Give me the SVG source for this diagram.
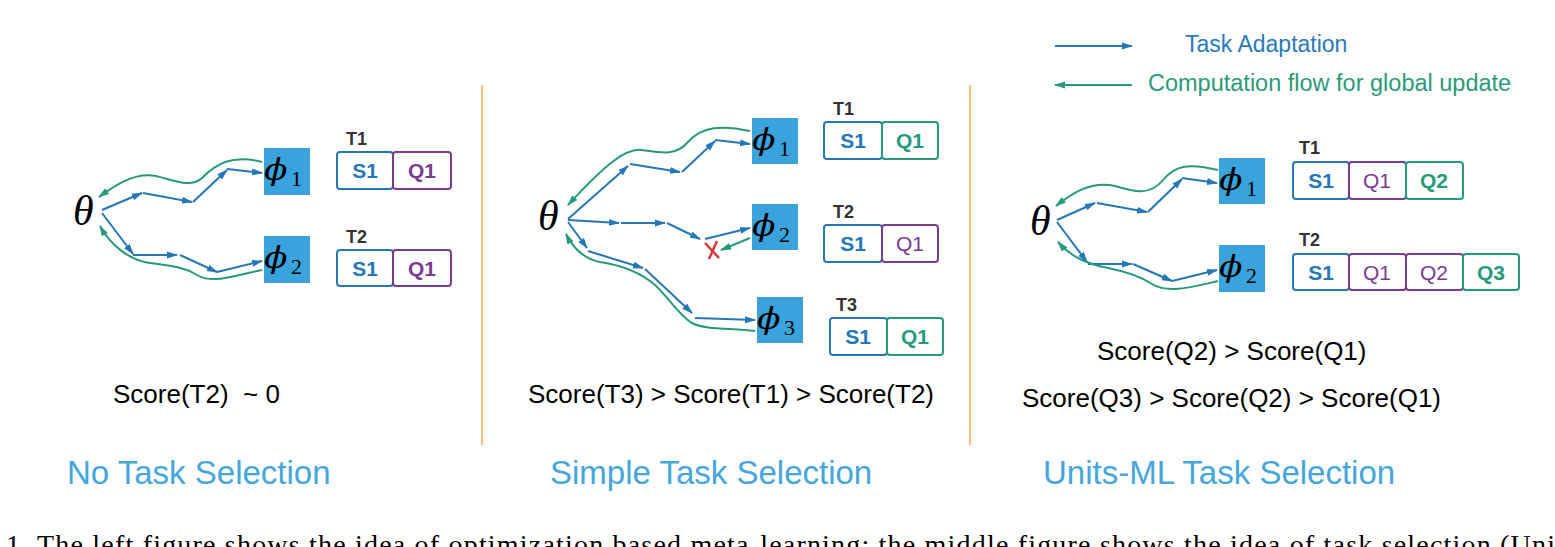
<svg xmlns="http://www.w3.org/2000/svg" width="1555" height="547" viewBox="0 0 1555 547">
<defs>
<marker id="ab" markerUnits="userSpaceOnUse" markerWidth="11" markerHeight="8" refX="10" refY="4" orient="auto"><path d="M0,0.5 L11,4 L0,7.5 z" fill="#2577b5"/></marker>
<marker id="ag" markerUnits="userSpaceOnUse" markerWidth="11" markerHeight="8" refX="10" refY="4" orient="auto"><path d="M0,0.5 L11,4 L0,7.5 z" fill="#259a7c"/></marker>
<style>
.b{stroke:#2577b5;stroke-width:2;fill:none;marker-end:url(#ab)}
.g{stroke:#259a7c;stroke-width:2;fill:none;marker-end:url(#ag)}
.phibox{fill:#3ba3dc}
.phi{font-family:"DejaVu Serif","Liberation Serif",serif;font-style:italic;font-size:30px;fill:#000}
.sub{font-family:"Liberation Serif","DejaVu Serif",serif;font-size:22px;fill:#000}
.theta{font-family:"Liberation Serif","DejaVu Serif",serif;font-style:italic;font-size:42px;fill:#000}
.tl{font-family:"Liberation Sans",Arial,sans-serif;font-weight:bold;font-size:18px;fill:#333}
.bx{fill:#fff;stroke-width:2}
.sb{stroke:#2577b5}.sp{stroke:#7b3b8f}.sg{stroke:#259a7c}
.bt{font-family:"Liberation Sans",Arial,sans-serif;font-size:21px;text-anchor:middle}
.tb{fill:#2577b5;font-weight:bold}.tp{fill:#7b3b8f;font-weight:bold}.tpr{fill:#7b3b8f}.tg{fill:#259a7c;font-weight:bold}
.score{font-family:"Liberation Sans",Arial,sans-serif;font-size:26px;fill:#000}
.title{font-family:"Liberation Sans",Arial,sans-serif;font-size:33px;fill:#45a6dc}
.sep{stroke:#f5c27c;stroke-width:2}
</style>
</defs>
<rect width="1555" height="547" fill="#fff"/>

<g id="legend">
<line x1="1055" y1="46" x2="1132" y2="46" class="b"/>
<text x="1185" y="52" font-family="Liberation Sans, Arial, sans-serif" font-size="23" fill="#2a7ab8">Task Adaptation</text>
<line x1="1132" y1="85" x2="1055" y2="85" class="g"/>
<text x="1148" y="91" font-family="Liberation Sans, Arial, sans-serif" font-size="23.5" fill="#2a9a7a">Computation flow for global update</text>
</g>

<g id="separators">
<line x1="482" y1="85" x2="482" y2="445" class="sep"/>
<line x1="970" y1="85" x2="970" y2="445" class="sep"/>
</g>

<g id="connectors">
<!-- left -->
<line x1="102" y1="210" x2="142" y2="193" class="b"/>
<line x1="143" y1="193" x2="192" y2="202" class="b"/>
<line x1="193" y1="202" x2="227" y2="170" class="b"/>
<line x1="227" y1="169" x2="262" y2="173" class="b"/>
<line x1="102" y1="213" x2="133" y2="254" class="b"/>
<line x1="133" y1="255" x2="177" y2="255" class="b"/>
<line x1="180" y1="255" x2="217" y2="272" class="b"/>
<line x1="217" y1="272" x2="262" y2="261" class="b"/>
<path d="M262,162 C232,154 216,164 202,178 C191,188 176,181 156,176 C134,172 114,186 99,197" class="g"/>
<path d="M262,270 C232,276 212,284 197,275 C184,267 172,266 150,263 C128,260 110,244 100,226" class="g"/>
<!-- middle -->
<line x1="568" y1="219" x2="628" y2="166" class="b"/>
<line x1="630" y1="164" x2="680" y2="172" class="b"/>
<line x1="682" y1="172" x2="715" y2="141" class="b"/>
<line x1="715" y1="140" x2="750" y2="144" class="b"/>
<line x1="568" y1="220" x2="619" y2="223" class="b"/>
<line x1="621" y1="223" x2="665" y2="223" class="b"/>
<line x1="667" y1="223" x2="700" y2="239" class="b"/>
<line x1="705" y1="239" x2="750" y2="228" class="b"/>
<line x1="568" y1="222" x2="587" y2="248" class="b"/>
<line x1="588" y1="251" x2="643" y2="268" class="b"/>
<line x1="645" y1="269" x2="692" y2="313" class="b"/>
<line x1="695" y1="318" x2="755" y2="320" class="b"/>
<path d="M750,131 C722,125 702,126 688,142 C676,156 662,153 642,150 C625,148 605,165 568,205" class="g"/>
<path d="M750,238 L721,250" class="g"/>
<path d="M755,331 C730,328 705,330 692,323 C680,316 668,297 655,285 C640,272 620,265 600,262 C585,259 574,250 566,234" class="g"/>
<g id="cross" stroke="#d63a3a" stroke-width="2.5" fill="none">
<line x1="705" y1="243" x2="719" y2="258"/>
<line x1="717" y1="241" x2="709" y2="259"/>
</g>
<!-- right -->
<line x1="1057" y1="220" x2="1095" y2="203" class="b"/>
<line x1="1097" y1="203" x2="1147" y2="212" class="b"/>
<line x1="1148" y1="212" x2="1182" y2="179" class="b"/>
<line x1="1182" y1="178" x2="1217" y2="183" class="b"/>
<line x1="1057" y1="222" x2="1087" y2="262" class="b"/>
<line x1="1088" y1="264" x2="1132" y2="264" class="b"/>
<line x1="1133" y1="264" x2="1172" y2="281" class="b"/>
<line x1="1172" y1="281" x2="1217" y2="270" class="b"/>
<path d="M1218,170 C1190,163 1175,165 1163,180 C1150,196 1135,192 1115,186 C1090,180 1070,195 1056,206" class="g"/>
<path d="M1218,281 C1192,287 1168,294 1152,284 C1140,276 1128,272 1108,268 C1088,264 1072,258 1058,242" class="g"/>
</g>

<!-- LEFT PANEL -->
<g id="theta-left"><text x="73" y="225" class="theta">θ</text></g>
<g id="phi1-left"><rect x="264" y="148" width="46" height="47" class="phibox"/><text transform="translate(264,180) scale(1.15,1)" class="phi">ϕ</text><text x="291" y="186" class="sub">1</text></g>
<g id="phi2-left"><rect x="264" y="236" width="46" height="47" class="phibox"/><text transform="translate(264,268) scale(1.15,1)" class="phi">ϕ</text><text x="291" y="274" class="sub">2</text></g>
<g id="task1-left">
<text x="346" y="145" class="tl">T1</text>
<rect x="337" y="152" width="56" height="37" rx="3" class="bx sb"/>
<rect x="393" y="152" width="58" height="37" rx="3" class="bx sp"/>
<text x="365" y="178" class="bt tb">S1</text><text x="422" y="178" class="bt tp">Q1</text>
</g>
<g id="task2-left">
<text x="346" y="243" class="tl">T2</text>
<rect x="337" y="250" width="56" height="36" rx="3" class="bx sb"/>
<rect x="393" y="250" width="58" height="36" rx="3" class="bx sp"/>
<text x="365" y="276" class="bt tb">S1</text><text x="422" y="276" class="bt tp">Q1</text>
</g>
<text x="113" y="403" class="score" xml:space="preserve">Score(T2)  ~ 0</text>
<text x="67" y="484" class="title">No Task Selection</text>

<!-- MIDDLE PANEL -->
<g id="theta-mid"><text x="538" y="230" class="theta">θ</text></g>
<g id="phi1-mid"><rect x="752" y="118" width="46" height="46" class="phibox"/><text transform="translate(752,150) scale(1.15,1)" class="phi">ϕ</text><text x="779" y="156" class="sub">1</text></g>
<g id="phi2-mid"><rect x="752" y="204" width="46" height="46" class="phibox"/><text transform="translate(752,236) scale(1.15,1)" class="phi">ϕ</text><text x="779" y="242" class="sub">2</text></g>
<g id="phi3-mid"><rect x="757" y="297" width="46" height="46" class="phibox"/><text transform="translate(757,329) scale(1.15,1)" class="phi">ϕ</text><text x="784" y="335" class="sub">3</text></g>
<g id="task1-mid">
<text x="833" y="115" class="tl">T1</text>
<rect x="824" y="122" width="58" height="37" rx="3" class="bx sb"/>
<rect x="882" y="122" width="56" height="37" rx="3" class="bx sg"/>
<text x="853" y="148" class="bt tb">S1</text><text x="910" y="148" class="bt tg">Q1</text>
</g>
<g id="task2-mid">
<text x="833" y="218" class="tl">T2</text>
<rect x="824" y="225" width="58" height="37" rx="3" class="bx sb"/>
<rect x="882" y="225" width="56" height="37" rx="3" class="bx sp"/>
<text x="853" y="251" class="bt tb">S1</text><text x="910" y="251" class="bt tpr">Q1</text>
</g>
<g id="task3-mid">
<text x="836" y="311" class="tl">T3</text>
<rect x="830" y="318" width="57" height="37" rx="3" class="bx sb"/>
<rect x="887" y="318" width="56" height="37" rx="3" class="bx sg"/>
<text x="858" y="344" class="bt tb">S1</text><text x="915" y="344" class="bt tg">Q1</text>
</g>
<text x="528" y="403" class="score">Score(T3) &gt; Score(T1) &gt; Score(T2)</text>
<text x="550" y="484" class="title">Simple Task Selection</text>

<!-- RIGHT PANEL -->
<g id="theta-right"><text x="1030" y="235" class="theta">θ</text></g>
<g id="phi1-right"><rect x="1219" y="158" width="46" height="46" class="phibox"/><text transform="translate(1219,190) scale(1.15,1)" class="phi">ϕ</text><text x="1246" y="196" class="sub">1</text></g>
<g id="phi2-right"><rect x="1219" y="245" width="46" height="47" class="phibox"/><text transform="translate(1219,277) scale(1.15,1)" class="phi">ϕ</text><text x="1246" y="283" class="sub">2</text></g>
<g id="task1-right">
<text x="1299" y="154" class="tl">T1</text>
<rect x="1293" y="162" width="56" height="37" rx="3" class="bx sb"/>
<rect x="1349" y="162" width="57" height="37" rx="3" class="bx sp"/>
<rect x="1406" y="162" width="57" height="37" rx="3" class="bx sg"/>
<text x="1321" y="188" class="bt tb">S1</text><text x="1377" y="188" class="bt tpr">Q1</text><text x="1434" y="188" class="bt tg">Q2</text>
</g>
<g id="task2-right">
<text x="1299" y="246" class="tl">T2</text>
<rect x="1293" y="254" width="56" height="36" rx="3" class="bx sb"/>
<rect x="1349" y="254" width="57" height="36" rx="3" class="bx sp"/>
<rect x="1406" y="254" width="57" height="36" rx="3" class="bx sp"/>
<rect x="1463" y="254" width="56" height="36" rx="3" class="bx sg"/>
<text x="1321" y="280" class="bt tb">S1</text><text x="1377" y="280" class="bt tpr">Q1</text><text x="1434" y="280" class="bt tpr">Q2</text><text x="1491" y="280" class="bt tg">Q3</text>
</g>
<text x="1097" y="360" class="score">Score(Q2) &gt; Score(Q1)</text>
<text x="1022" y="407" class="score">Score(Q3) &gt; Score(Q2) &gt; Score(Q1)</text>
<text x="1043" y="484" class="title">Units-ML Task Selection</text>

<text x="6" y="554" font-family="Liberation Serif, Times New Roman, serif" font-size="28" fill="#000" textLength="1549" lengthAdjust="spacing">1. The left figure shows the idea of optimization based meta-learning; the middle figure shows the idea of task selection (Uni</text>
</svg>
